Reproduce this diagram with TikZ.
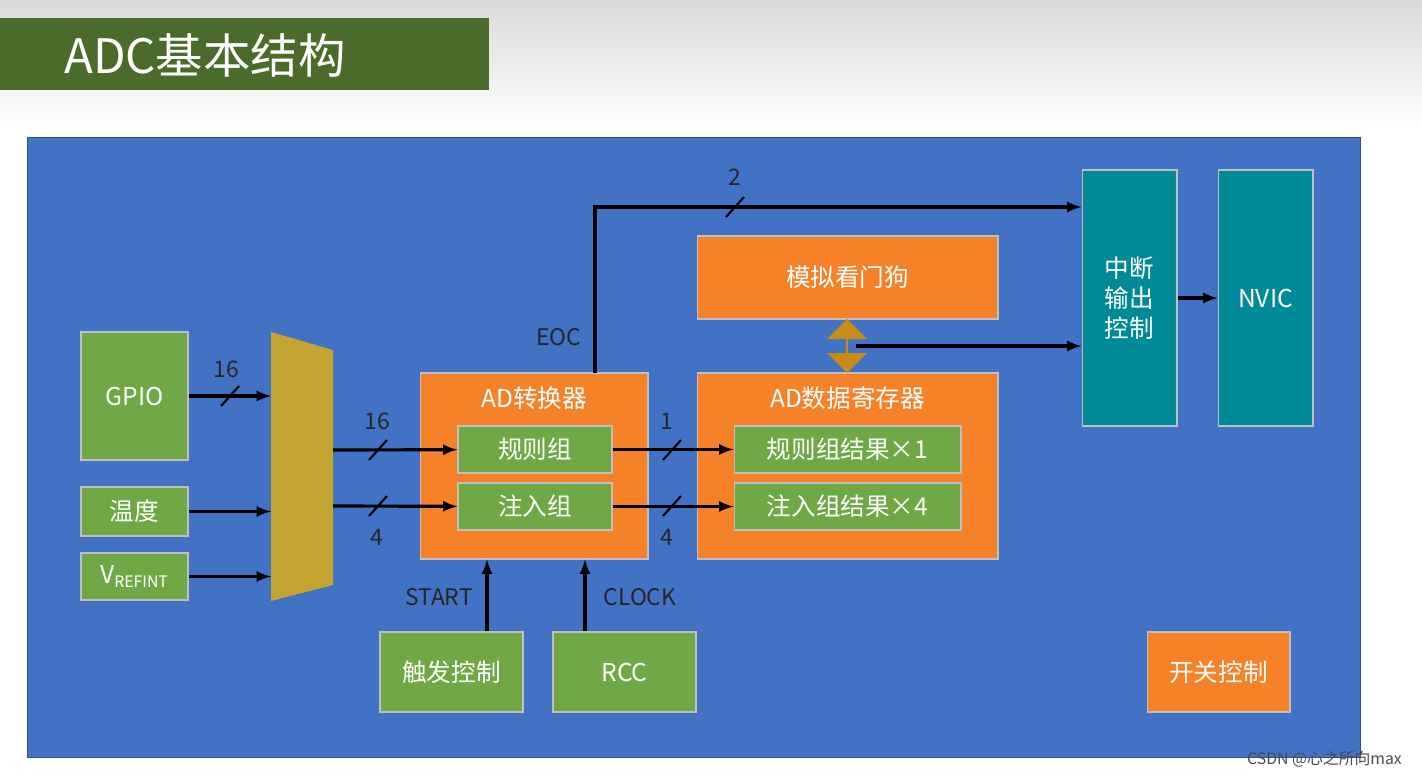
\documentclass[tikz,border=0pt]{standalone}
\usepackage{fontspec}
\setmainfont{Noto Sans CJK SC}
\usepackage{tikz}
\usetikzlibrary{shapes.arrows}
\definecolor{panel}{RGB}{66,114,196}
\definecolor{leaf}{RGB}{112,168,70}
\definecolor{tang}{RGB}{245,130,40}
\definecolor{teal}{RGB}{0,137,150}
\definecolor{gold}{RGB}{196,164,48}
\definecolor{amber}{RGB}{200,140,20}
\definecolor{title}{RGB}{74,107,42}
\tikzset{
  box/.style={draw=black!25, line width=0.6pt, text=white, font=\fontsize{14}{17}\selectfont, inner sep=0pt},
  gbox/.style={box, fill=leaf},
  obox/.style={box, fill=tang},
  tbox/.style={box, fill=teal, align=center},
  wire/.style={-latex, line width=1.8pt},
  lbl/.style={text=black!85, font=\fontsize{13}{15}\selectfont}
}
\begin{document}
\begin{tikzpicture}[x=0.02cm, y=-0.02cm]
			% Background
			\shade[top color=black!15, bottom color=white] (0,0) rectangle (1422,130);
			\fill[white] (0,130) rectangle (1422,777);
			\useasboundingbox (0,0) rectangle (1422,777);
			\fill[title] (0,18) rectangle (489,90);
			\node[text=white, font=\fontsize{27}{30}\selectfont, anchor=west] (ttl) at (58,55) {ADC基本结构};
			\draw[fill=panel, draw=panel!70!black] (27,137) rectangle (1360,757);
			
			% Inputs
			\node[gbox, minimum width=2.14cm, minimum height=2.56cm] (gpio) at (134.5,396) {GPIO};
			\node[gbox, minimum width=2.14cm, minimum height=0.98cm] (temp) at (134.5,511.5) {温度};
			\node[gbox, minimum width=2.14cm, minimum height=0.94cm] (vref) at (134.5,576.5) {V\textsubscript{\fontsize{9}{10}\selectfont REFINT}};
			
			% Multiplexer
			\fill[gold] (271,332) -- (333,350) -- (333,585) -- (271,601) -- cycle;
			\coordinate (mgpio) at (271,396);
			\coordinate (mtemp) at (271,511.5);
			\coordinate (mvref) at (271,576.5);
			\coordinate (mreg) at (333,450);
			\coordinate (minj) at (333,506);
			
			% Converter
			\node[obox, minimum width=4.56cm, minimum height=3.72cm] (adc) at (534,466) {};
			\node[text=white, font=\fontsize{14}{17}\selectfont] (adct) at (534,398) {AD转换器};
			\node[gbox, minimum width=3.08cm, minimum height=0.94cm] (reg) at (535,449.5) {规则组};
			\node[gbox, minimum width=3.08cm, minimum height=0.94cm] (inj) at (535,506.5) {注入组};
			
			% Data registers
			\node[obox, minimum width=6.02cm, minimum height=3.72cm] (dr) at (847.5,466) {};
			\node[text=white, font=\fontsize{14}{17}\selectfont] (drt) at (847.5,398) {AD数据寄存器};
			\node[gbox, minimum width=4.54cm, minimum height=0.94cm] (rres) at (847.5,449.5) {规则组结果×1};
			\node[gbox, minimum width=4.54cm, minimum height=0.94cm] (ires) at (847.5,506.5) {注入组结果×4};
			\node[obox, minimum width=6.02cm, minimum height=1.66cm] (wdg) at (847.5,277.5) {模拟看门狗};
			
			% Interrupt
			\node[tbox, minimum width=1.9cm, minimum height=5.12cm] (irq) at (1129.5,298) {中断\\输出\\控制};
			\node[tbox, minimum width=1.9cm, minimum height=5.12cm] (nvic) at (1265.5,298) {NVIC};
			
			% Bottom blocks
			\node[gbox, minimum width=2.86cm, minimum height=1.6cm] (trig) at (451.5,672) {触发控制};
			\node[gbox, minimum width=2.86cm, minimum height=1.6cm] (rcc) at (624.5,672) {RCC};
			\node[obox, minimum width=2.86cm, minimum height=1.6cm] (sw) at (1218.5,672) {开关控制};
			
			% Wires
			\draw[wire] (gpio.east |- mgpio) -- (mgpio);
			\draw[wire] (temp) -- (mtemp);
			\draw[wire] (vref) -- (mvref);
			\draw[wire] (mreg) -- (reg);
			\draw[wire] (minj) -- (inj);
			\draw[wire] (reg) -- (rres);
			\draw[wire] (inj) -- (ires);
			\draw[wire] (irq.east) -- (nvic.west);
			\coordinate (eoc) at (595,373);
			\coordinate (eocup) at (595,207);
			\draw[wire] (eoc) -- (eocup) -- (irq.west |- eocup);
			\node[double arrow, fill=amber, rotate=90, minimum height=1.08cm, minimum width=0.8cm, double arrow head extend=0.12cm, inner sep=0pt] (dbl) at (847,346) {};
			\coordinate (wdgout) at (856,346);
			\draw[wire] (wdgout) -- (irq.west |- wdgout);
			\draw[wire] (trig.north -| 487,0) -- (adc.south -| 487,0);
			\draw[wire] (rcc.north -| 585,0) -- (adc.south -| 585,0);
			
			% Bus marks
			\foreach \x/\y in {230/396, 378/450, 378/506, 672/450, 672/506, 735/207}
				\draw[line width=1.2pt] (\x-9,\y+10) -- (\x+9,\y-10);
			
			% Labels
			\node[lbl] (n1) at (226,369) {16};
			\node[lbl] (n2) at (377,421) {16};
			\node[lbl] (n3) at (377,537) {4};
			\node[lbl] (n4) at (667,421) {1};
			\node[lbl] (n5) at (667,537) {4};
			\node[lbl] (n6) at (735,177) {2};
			\node[lbl] (eocl) at (559,337) {EOC};
			\node[lbl] (startl) at (439,597) {START};
			\node[lbl] (clkl) at (640,597) {CLOCK};
			\node[text=black!70, font=\fontsize{9}{10}\selectfont, anchor=east] (wm) at (1408,759) {CSDN @心之所向max};
		\end{tikzpicture}
\end{document}
